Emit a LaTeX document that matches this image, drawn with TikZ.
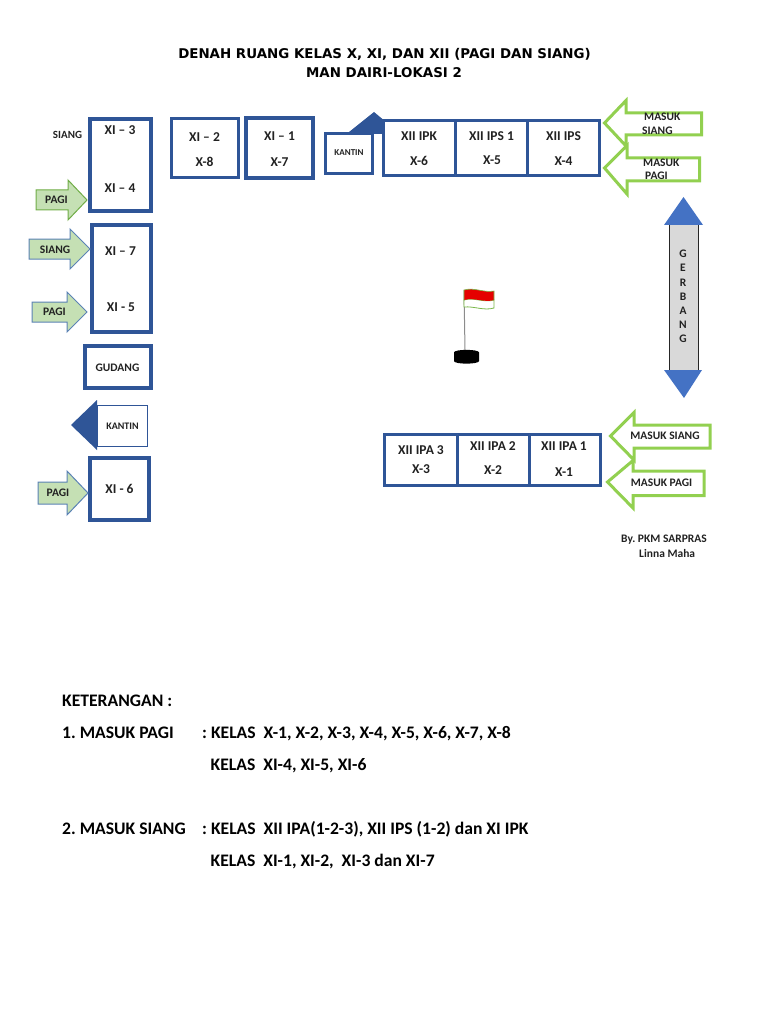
\documentclass[tikz,border=0pt]{standalone}
\usepackage{fontspec}
\setmainfont{Carlito}
\newfontfamily\titlefont{DejaVu Sans}
\definecolor{roomblue}{HTML}{2F5597}
\definecolor{arrowgreen}{HTML}{92D050}
\definecolor{softgreen}{HTML}{C5E0B4}
\definecolor{softline}{HTML}{70AD47}
\definecolor{softblue}{HTML}{5B82B5}
\definecolor{gateblue}{HTML}{4472C4}
\definecolor{ink}{HTML}{222222}
\tikzset{
  room/.style={draw=roomblue,line width=3.3pt,fill=white,line join=miter},
  hollowarrow/.style={draw=arrowgreen,line width=3pt,fill=none,line join=miter},
  softarrowg/.style={draw=softline,line width=1pt,fill=softgreen},
  softarrowb/.style={draw=softblue,line width=1pt,fill=softgreen},
  lab/.style={font=\fontsize{13.5}{15}\selectfont\bfseries,text=ink,inner sep=0pt,align=center},
  small/.style={font=\fontsize{11.5}{13}\selectfont\bfseries,text=ink,inner sep=0pt,align=center},
  tiny/.style={font=\fontsize{9}{11}\selectfont\bfseries,text=ink,inner sep=0pt},
  titlet/.style={font=\fontsize{13.4}{15}\selectfont\titlefont\bfseries,text=black,inner sep=0pt},
  body/.style={font=\fontsize{17.6}{20}\selectfont\bfseries,text=black,inner sep=0pt,anchor=base west},
}
\begin{document}
\frenchspacing
\begin{tikzpicture}[x=1pt,y=-1pt]
\useasboundingbox (0,0) rectangle (768,1024);
% title
\node[titlet] (t1) at (384.5,54) {DENAH RUANG KELAS X, XI, DAN XII (PAGI DAN SIANG)};
\node[titlet] (t2) at (384,73) {MAN DAIRI-LOKASI 2};
% kantin triangle (top)
\fill[roomblue] (349,132) -- (374,112) -- (386,122) -- (386,134) -- (349,134) -- cycle;
% rooms left
\draw[room] (90,119) rectangle (151,211);
\draw[room] (92,225) rectangle (151,332);
\draw[room] (85,346) rectangle (151,388);
\draw[room] (90,458) rectangle (149,520);
\draw[room,line width=3pt] (171,119) rectangle (238,178);
\draw[room] (246,118) rectangle (313,178);
\draw[room,line width=3pt] (325.5,133.5) rectangle (372.5,173.5);
% rooms top right
\draw[room,line width=3pt] (383.5,120.5) rectangle (599,175.5);
\draw[room,line width=3pt] (455.5,120.5) -- (455.5,175.5);
\draw[room,line width=3pt] (527,120.5) -- (527,175.5);
% rooms bottom right
\draw[room,line width=3pt] (384.5,434.5) rectangle (600.5,485.5);
\draw[room,line width=3pt] (457,434.5) -- (457,485.5);
\draw[room,line width=3pt] (529,434.5) -- (529,485.5);
% lower kantin
\draw[draw=roomblue,line width=1pt,fill=white] (97,405) rectangle (147,446);
\fill[roomblue] (71,425) -- (97,400) -- (97,450) -- cycle;
% green hollow arrows
\draw[hollowarrow] (604.5,123) -- (626,100.5) -- (626,113) -- (701.5,113) -- (701.5,135) -- (626,135) -- (626,146) -- cycle;
\draw[hollowarrow] (604.5,168) -- (627,145.5) -- (627,158) -- (699.5,158) -- (699.5,181) -- (627,181) -- (627,194) -- cycle;
\draw[hollowarrow] (610.5,436) -- (634,412.5) -- (634,425) -- (710,425) -- (710,448) -- (634,448) -- (634,460) -- cycle;
\draw[hollowarrow] (607.5,482) -- (633,460.5) -- (633,471) -- (704,471) -- (704,495.5) -- (633,495.5) -- (633,508) -- cycle;
% soft arrows
\draw[softarrowg] (36,190) -- (68,190) -- (68,180) -- (87,200) -- (68,220) -- (68,210) -- (36,210) -- cycle;
\draw[softarrowb] (29,239) -- (70,239) -- (70,229) -- (90,249) -- (70,269) -- (70,259) -- (29,259) -- cycle;
\draw[softarrowb] (32,302) -- (67,302) -- (67,292) -- (87,312) -- (67,332) -- (67,322) -- (32,322) -- cycle;
\draw[softarrowb] (38,482) -- (67,482) -- (67,471) -- (88,493) -- (67,515) -- (67,504) -- (38,504) -- cycle;
% gate
\draw[fill=black!15,draw=black!85,line width=1pt] (669,225) rectangle (698,371);
\fill[gateblue] (683.5,197) -- (703,225) -- (664,225) -- cycle;
\fill[gateblue] (664,370) -- (702,370) -- (684,398) -- cycle;
% flag
\draw[black!45,line width=1pt] (464,290) -- (465,350);
\draw[softline!70!arrowgreen,line width=.8pt,fill=white] (464,300) .. controls (474,297) and (484,303) .. (494,300) -- (494,308) .. controls (484,311) and (474,306) .. (464,307) -- cycle;
\fill[red!90!black] (464,290) .. controls (474,287) and (484,293) .. (494,291) -- (494,300) .. controls (484,303) and (474,297) .. (464,300) -- cycle;
\draw[softline!70!arrowgreen,line width=.6pt] (464,300) -- (464,290) .. controls (474,287) and (484,293) .. (494,291) -- (494,300);
\fill[black] (454,352.5) .. controls (454,349) and (479,349) .. (479,352.5) -- (479,361) .. controls (479,364.5) and (454,364.5) .. (454,361) -- cycle;
% room labels
\node[lab] (a1) at (120,130) {XI – 3};
\node[lab] (a2) at (120,188) {XI – 4};
\node[lab] (a3) at (120.5,251) {XI – 7};
\node[lab] (a4) at (121,307.5) {XI - 5};
\node[small] (a5) at (117.5,367.5) {GUDANG};
\node[tiny,font=\fontsize{10}{12}\selectfont\bfseries] (a6) at (122.5,426) {KANTIN};
\node[lab] (a7) at (119.5,489) {XI - 6};
\node[lab] (b1) at (204.5,137) {XI – 2};
\node[lab] (b2) at (204.5,162) {X-8};
\node[lab] (b3) at (279.5,136) {XI – 1};
\node[lab] (b4) at (279.5,162) {X-7};
\node[tiny] (k1) at (349,153) {KANTIN};
\node[lab] (c1) at (419,136) {XII IPK};
\node[lab] (c2) at (419,161) {X-6};
\node[lab] (c3) at (491.5,136) {XII IPS 1};
\node[lab] (c4) at (492,160.5) {X-5};
\node[lab] (c5) at (563.5,136) {XII IPS};
\node[lab] (c6) at (563.5,161) {X-4};
\node[lab] (d1) at (421,450) {XII IPA 3};
\node[lab] (d2) at (421,469) {X-3};
\node[lab] (d3) at (493,446) {XII IPA 2};
\node[lab] (d4) at (493,470.5) {X-2};
\node[lab] (d5) at (564,446) {XII IPA 1};
\node[lab] (d6) at (564,472.5) {X-1};
% arrow labels
\node[small,font=\fontsize{11}{13}\selectfont\bfseries] (s0) at (67.5,134.5) {SIANG};
\node[small] (p1) at (56.5,200) {PAGI};
\node[small] (s1) at (55,249.5) {SIANG};
\node[small] (p2) at (54.5,312) {PAGI};
\node[small] (p3) at (58,493) {PAGI};
\node[small,anchor=west] (m1) at (644,116.5) {MASUK};
\node[small,anchor=west] (m2) at (642,130.5) {SIANG};
\node[small,anchor=west] (m3) at (643,162.5) {MASUK};
\node[small,anchor=west] (m4) at (645,176) {PAGI};
\node[small] (m5) at (665,435.5) {MASUK SIANG};
\node[small] (m6) at (661.5,483) {MASUK PAGI};
\node[small,align=center] (g) at (683,296.5) {G\\[1.2pt]E\\[1.2pt]R\\[1.2pt]B\\[1.2pt]A\\[1.2pt]N\\[1.2pt]G};
\node[small,anchor=west] (by) at (621,539.5) {By. PKM SARPRAS};
\node[small,anchor=west] (ln) at (639,553.5) {Linna Maha};
% notes
\node[body] (n1) at (62,706) {KETERANGAN :};
\node[body] (n2) at (62,738) {1. MASUK PAGI};
\node[body] (n2b) at (202,738) {: KELAS\ \ X-1, X-2, X-3, X-4, X-5, X-6, X-7, X-8};
\node[body] (n3) at (210.5,770.5) {KELAS\ \ XI-4, XI-5, XI-6};
\node[body] (n4) at (62,834) {2. MASUK SIANG};
\node[body] (n4b) at (202,834) {: KELAS\ \ XII IPA(1-2-3), XII IPS (1-2) dan XI IPK};
\node[body] (n5) at (210.5,866.5) {KELAS\ \ XI-1, XI-2,\ \ XI-3 dan XI-7};
\end{tikzpicture}
\end{document}
